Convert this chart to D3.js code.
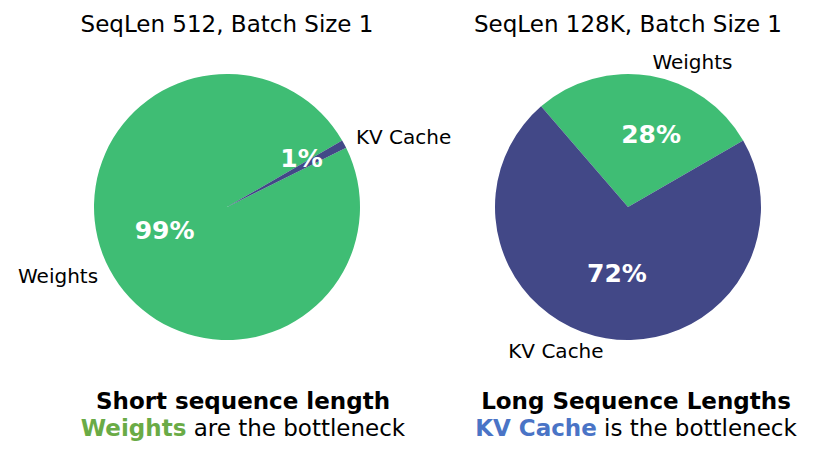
<!DOCTYPE html>
<html>
<head>
<meta charset="utf-8">
<script src="https://cdn.jsdelivr.net/npm/d3@7"></script>
<style>
  body { margin: 0; background: #fff; }
  text { font-family: "DejaVu Sans", sans-serif; }
</style>
</head>
<body>
<div id="chart"></div>
<script>
// data
var categories = ["Weights", "KV Cache"]
var shortValues = [99, 1]
var longValues = [28, 72]
var pieTitles = ["SeqLen 512, Batch Size 1", "SeqLen 128K, Batch Size 1"]
var captionHeads = ["Short sequence length", "Long Sequence Lengths"]
var captionKeys = ["Weights", "KV Cache"]
var captionRest = [" are the bottleneck", " is the bottleneck"]

var width = 830, height = 457
var radius = 133
var centers = [227, 628]
var captionX = [243, 636]
var cy = 207
var sliceColor = d3.scaleOrdinal().domain(categories).range(["#3fbd74", "#424887"])
var keyColors = ["#6aab46", "#4a74c6"]
// percent label placement per slice: [distance as fraction of radius, angle nudge in degrees]
var pctPlace = [[[0.5, -8], [0.67, 5]], [[0.575, -8], [0.5, 0]]]

var svg = d3.select("#chart").append("svg").attr("width", width).attr("height", height)

function drawPie(values, i) {
    var rows = categories.map(function(c, j) { return {name: c, value: values[j]} })
    var total = d3.sum(values)
    // matplotlib style: start at 30deg, counterclockwise
    var start = Math.PI / 2 - Math.PI / 6
    var pie = d3.pie().value(function(d) { return d.value }).sort(null)
        .startAngle(start).endAngle(start - 2 * Math.PI)
    var arcs = pie(rows)
    var arc = d3.arc().innerRadius(0).outerRadius(radius)
    var lblR = radius * 1.1

    var g = svg.append("g").attr("transform", "translate(" + centers[i] + "," + cy + ")")
    g.selectAll("path").data(arcs).enter().append("path")
        .attr("d", arc)
        .attr("fill", function(d) { return sliceColor(d.data.name) })

    g.selectAll("text.pct").data(arcs).enter().append("text")
        .attr("class", "pct")
        .each(function(d, j) {
            var p = pctPlace[i][j]
            var a = (d.startAngle + d.endAngle) / 2 - p[1] * Math.PI / 180
            d3.select(this)
                .attr("x", radius * p[0] * Math.sin(a))
                .attr("y", -radius * p[0] * Math.cos(a))
        })
        .attr("text-anchor", "middle").attr("dy", "0.36em")
        .attr("fill", "white").attr("font-weight", "bold").attr("font-size", 25)
        .text(function(d) { return Math.round(d.data.value / total * 100) + "%" })

    g.selectAll("text.lbl").data(arcs).enter().append("text")
        .attr("class", "lbl")
        .each(function(d) {
            var a = (d.startAngle + d.endAngle) / 2
            var x = lblR * Math.sin(a), y = -lblR * Math.cos(a)
            d3.select(this).attr("x", x).attr("y", y)
                .attr("text-anchor", x > 0 ? "start" : "end")
        })
        .attr("dy", "0.32em").attr("font-size", 20).attr("fill", "black")
        .text(function(d) { return d.data.name })

    svg.append("text").attr("x", centers[i]).attr("y", 31.5)
        .attr("text-anchor", "middle").attr("font-size", 23)
        .text(pieTitles[i])

    svg.append("text").attr("x", captionX[i]).attr("y", 409)
        .attr("text-anchor", "middle").attr("font-size", 23).attr("font-weight", "bold")
        .text(captionHeads[i])
    var t = svg.append("text").attr("x", captionX[i]).attr("y", 436)
        .attr("text-anchor", "middle").attr("font-size", 23)
    t.append("tspan").attr("font-weight", "bold").attr("fill", keyColors[i]).text(captionKeys[i])
    t.append("tspan").text(captionRest[i])
}

drawPie(shortValues, 0)
drawPie(longValues, 1)
</script>
</body>
</html>
